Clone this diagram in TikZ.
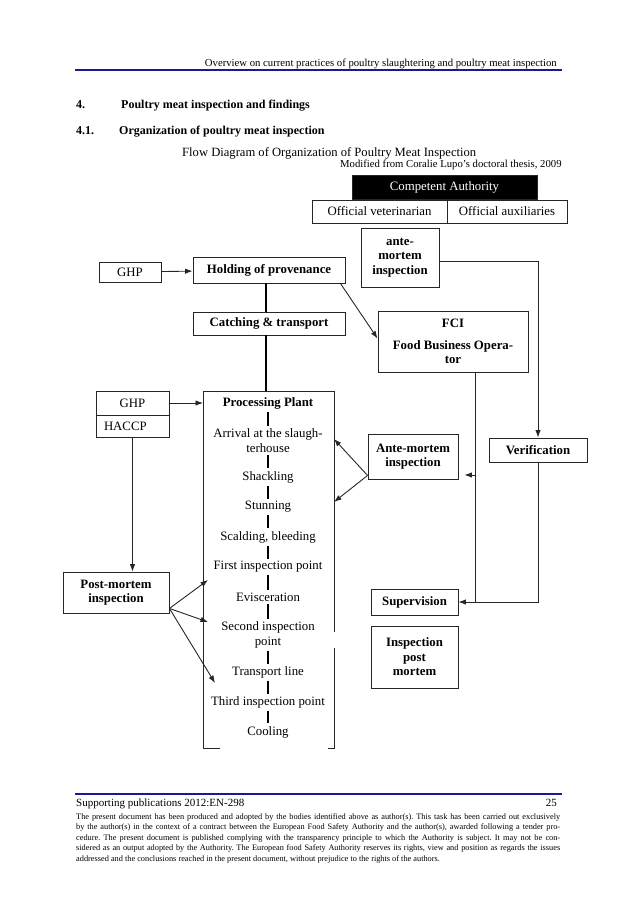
\documentclass[tikz,border=0pt]{standalone}
\usepackage{fontspec}
\setmainfont{Liberation Serif}
\usetikzlibrary{arrows.meta}
\definecolor{ruleblue}{RGB}{25,25,150}

\tikzset{
  box/.style={draw=black!85, line width=0.9pt, align=center,
    font=\fontsize{12.8}{14.5}\selectfont},
  bbox/.style={box, font=\fontsize{12.8}{14.5}\selectfont\bfseries},
  dark/.style={box, fill=black, text=white},
  stage/.style={align=center, font=\fontsize{12.8}{15}\selectfont},
  flow/.style={line width=2.6pt, shorten <=2.5pt, shorten >=2.5pt},
  link/.style={draw=black!85, line width=0.9pt},
  rule/.style={draw=ruleblue, line width=1.6pt},
}

\begin{document}
\begin{tikzpicture}[x=1pt,y=-1pt,>={Latex[length=7.5pt,width=5.5pt]},every node/.append style={inner sep=0pt}]
  \useasboundingbox (0,0) rectangle (638,902);

  \node[anchor=base east,font=\fontsize{10.7}{12}\selectfont] (head) at (557,66)
    {Overview on current practices of poultry slaughtering and poultry meat inspection};
  \draw[rule] (75,70) -- (562,70);

  \node[anchor=base west,font=\fontsize{12}{14}\selectfont\bfseries] (n4) at (76,108) {4.};
  \node[anchor=base west,font=\fontsize{12}{14}\selectfont\bfseries] (t4) at (121,108) {Poultry meat inspection and findings};
  \node[anchor=base west,font=\fontsize{12}{14}\selectfont\bfseries] (n41) at (76,134) {4.1.};
  \node[anchor=base west,font=\fontsize{12}{14}\selectfont\bfseries] (t41) at (119,134) {Organization of poultry meat inspection};
  \node[anchor=base west,font=\fontsize{12.6}{14}\selectfont] (title) at (182,156) {Flow Diagram of Organization of Poultry Meat Inspection};
  \node[anchor=base west,font=\fontsize{10.7}{12}\selectfont] (src) at (340,167) {Modified from Coralie Lupo’s doctoral thesis, 2009};

  \node[dark, minimum width=185pt, minimum height=24pt] (ca) at (444.5,187) {Competent Authority};
  \node[box, minimum width=135pt, minimum height=23pt] (vet) at (379.5,211.5) {Official veterinarian};
  \node[box, minimum width=120pt, minimum height=23pt] (aux) at (507,211.5) {Official auxiliaries};

  \node[bbox, minimum width=78pt, minimum height=59pt] (am1) at (400,257.5) {ante-\\mortem\\inspection};
  \node[box, minimum width=62pt, minimum height=20pt] (ghp1) at (130,272) {GHP};
  \node[bbox, minimum width=152pt, minimum height=26pt] (hold) at (269,270) {Holding of provenance};
  \node[bbox, minimum width=152pt, minimum height=23pt] (catch) at (269,323.5) {Catching \& transport};
  \node[bbox, minimum width=150pt, minimum height=61pt] (fci) at (453,341.5) {FCI\\[7pt]Food Business Opera-\\tor};

  \node[box, minimum width=73pt, minimum height=24pt] (ghp2) at (132.5,403) {GHP};
  \node[box, minimum width=73pt, minimum height=22pt, text width=57pt, align=left] (haccp) at (132.5,426) {HACCP};
  \node[bbox, minimum width=98pt, minimum height=24pt] (verif) at (538,450) {Verification};
  \node[bbox, minimum width=90pt, minimum height=45pt] (am2) at (413,456.5) {Ante-mortem\\inspection};
  \node[bbox, minimum width=87pt, minimum height=26pt] (superv) at (414.5,602) {Supervision};
  \node[bbox, minimum width=87pt, minimum height=62pt] (ipm) at (414.5,657) {Inspection\\post\\mortem};
  \node[bbox, minimum width=106pt, minimum height=41pt] (pm) at (116,592.5) {Post-mortem\\inspection};

  % processing plant
  \draw[link] (334,632) -- (334,391) -- (203,391) -- (203,748) -- (220,748);
  \draw[link] (328,748) -- (334,748) -- (334,648);
  \foreach \y/\t [count=\i] in {403/{\textbf{Processing Plant}}, 440.5/{Arrival at the slaugh-\\terhouse},
      477/Shackling, 507/Stunning, 537/{Scalding, bleeding}, 567/First inspection point,
      597/Evisceration, 634.5/{Second inspection\\point}, 672/Transport line,
      702/Third inspection point, 732/Cooling}
    \node[stage] (s\i) at (268,\y) {\t};
  \foreach \i/\j in {1/2,2/3,3/4,4/5,5/6,6/7,7/8,8/9,9/10,10/11}
    \draw[flow] (s\i) -- (s\j);

  \coordinate (ptop) at (266,391);
  \draw[flow, shorten <=0pt, shorten >=0pt] ([xshift=-3pt]hold.south) -- ([xshift=-3pt]catch.north);
  \draw[flow, shorten <=0pt, shorten >=0pt] (catch.south -| ptop) -- (ptop);

  % connectors
  \draw[link,->] (ghp1) -- (hold);
  \draw[link,->] ([xshift=-5pt]hold.south east) -- ([yshift=3pt]fci.west);
  \draw[link,->] ([yshift=-4pt]am1.east) -| (verif.north);

  \coordinate (j) at (475,475);
  \coordinate (k) at (475,602);
  \draw[link] (fci.south -| j) -- (k);
  \draw[link] (verif.south) |- (k);
  \draw[link,->] (k) -- (superv.east);
  \draw[link,->,shorten >=6pt] (j) -- (j -| am2.east);

  \coordinate (amL) at ([yshift=4pt]am2.south west);
  \coordinate (e1) at (334,439);
  \coordinate (e2) at (334,502);
  \draw[link,->] (amL) -- (e1);
  \draw[link,->] (amL) -- (e2);

  \coordinate (w1) at (203,403);
  \draw[link,->] (ghp2.east) -- (w1);
  \draw[link,->] (haccp.south) -- (haccp.south |- pm.north);

  \coordinate (pmR) at ([yshift=5pt]pm.south east);
  \coordinate (f1) at (208,580);
  \coordinate (f2) at (208,622);
  \coordinate (f3) at (215,683);
  \foreach \f in {f1,f2,f3}
    \draw[link,->] (pmR) -- (\f);

  % page foot
  \draw[rule] (75,794) -- (562,794);
  \node[anchor=base west,font=\fontsize{11}{12}\selectfont] (pub) at (76,806) {Supporting publications 2012:EN-298};
  \node[anchor=base east,font=\fontsize{11}{12}\selectfont] (pg) at (557,806) {25};
  \node[anchor=north west, text width=484pt, align=justify, font=\fontsize{8.3}{10.6}\selectfont\frenchspacing] (disc) at (76,813)
    {The present document has been produced and adopted by the bodies identified above as author(s). This task has been carried out exclusively\linebreak
     by the author(s) in the context of a contract between the European Food Safety Authority and the author(s), awarded following a tender pro-\linebreak
     cedure. The present document is published complying with the transparency principle to which the Authority is subject. It may not be con-\linebreak
     sidered as an output adopted by the Authority. The European food Safety Authority reserves its rights, view and position as regards the issues\linebreak
     addressed and the conclusions reached in the present document, without prejudice to the rights of the authors.};
\end{tikzpicture}
\end{document}
